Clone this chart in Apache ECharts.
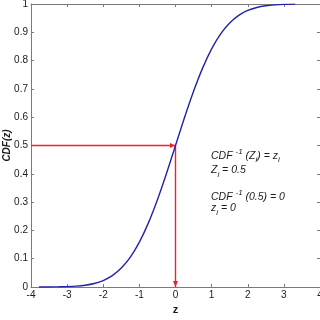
<!DOCTYPE html>
<html><head><meta charset="utf-8">
<script src="https://cdn.jsdelivr.net/npm/echarts@6/dist/echarts.min.js"></script>
<style>html,body{margin:0;padding:0;background:#fff}#c{width:320px;height:320px}</style>
</head><body><div id="c"></div>
<script>
var zValues = [-3.78,-3.5,-3.25,-3.0,-2.75,-2.5,-2.25,-2.0,-1.75,-1.5,-1.25,-1.0,-0.75,-0.5,-0.25,0,0.25,0.5,0.75,1.0,1.25,1.5,1.75,2.0,2.25,2.5,2.75,3.0,3.31];
var cdfValues = [0.0001,0.0002,0.0006,0.0013,0.0030,0.0062,0.0122,0.0228,0.0401,0.0668,0.1056,0.1587,0.2266,0.3085,0.4013,0.5,0.5987,0.6915,0.7734,0.8413,0.8944,0.9332,0.9599,0.9772,0.9878,0.9938,0.9970,0.9987,0.9995];
var arrowStartX = -4;
var arrowPoint = [0, 0.5];
var xTicks = [-4,-3,-2,-1,0,1,2,3,4];
var yTicks = [0,0.1,0.2,0.3,0.4,0.5,0.6,0.7,0.8,0.9,1];

var FONT = 'Liberation Sans, Arial, sans-serif';
var chart = echarts.init(document.getElementById('c'), null, {renderer:'canvas'});
var axisCol = '#7a7a7a';
var lblCol = '#1a1a1a';
var red = '#f0202a';
var curve = zValues.map(function(z,i){return [z, cdfValues[i]];});
var option = {
  animation:false,
  backgroundColor:'#fff',
  grid:{left:31,right:0,top:4,bottom:33,containLabel:false,outerBoundsMode:'none'},
  xAxis:[{
    type:'value', min:xTicks[0], max:xTicks[xTicks.length-1], interval:1,
    name:'z', nameLocation:'middle', nameGap:17, nameMoveOverlap:false,
    nameTextStyle:{fontFamily:FONT,fontSize:11,fontWeight:'bold',color:lblCol},
    axisLine:{onZero:false,lineStyle:{color:axisCol,width:1}},
    axisTick:{inside:true,length:3,lineStyle:{color:axisCol}},
    axisLabel:{fontFamily:FONT,fontSize:10,color:lblCol,margin:3,showMaxLabel:true,showMinLabel:true},
    splitLine:{show:false}
  },{
    type:'value', position:'top', min:-4, max:4, interval:1,
    axisLine:{onZero:false,lineStyle:{color:axisCol,width:1}},
    axisTick:{inside:true,length:3,lineStyle:{color:axisCol}},
    axisLabel:{show:false}, splitLine:{show:false}
  }],
  yAxis:[{
    type:'value', min:0, max:1, interval:0.1,
    name:'CDF(z)', nameLocation:'middle', nameGap:19, nameMoveOverlap:false,
    nameTextStyle:{fontFamily:FONT,fontSize:10,fontWeight:'bold',fontStyle:'italic',color:lblCol},
    axisLine:{onZero:false,lineStyle:{color:axisCol,width:1}},
    axisTick:{inside:true,length:3,lineStyle:{color:axisCol}},
    axisLabel:{fontFamily:FONT,fontSize:10,color:lblCol,margin:3},
    splitLine:{show:false}
  },{
    type:'value', position:'right', min:0, max:1, interval:0.1,
    axisLine:{onZero:false,lineStyle:{color:axisCol,width:1}},
    axisTick:{inside:true,length:3,lineStyle:{color:axisCol}},
    axisLabel:{show:false}, splitLine:{show:false}
  }],
  series:[{
    type:'line', data:curve, smooth:0.3, showSymbol:false,
    lineStyle:{color:'#2323a8',width:1.4}, z:3
  },{
    type:'line', z:2, showSymbol:false, symbol:'none',
    lineStyle:{color:red,width:1.6},
    data:[[arrowStartX, arrowPoint[1]],[arrowPoint[0], arrowPoint[1]]],
    markPoint:{
      symbol:'triangle', symbolSize:[5,5], symbolRotate:-90, symbolOffset:[-3,0],
      itemStyle:{color:red}, label:{show:false},
      data:[{coord:[arrowPoint[0], arrowPoint[1]]}]
    }
  },{
    type:'line', z:2, showSymbol:false, symbol:'none',
    lineStyle:{color:red,width:1.4},
    data:[[arrowPoint[0], arrowPoint[1]],[arrowPoint[0], 0]],
    markPoint:{
      symbol:'triangle', symbolSize:[5,6], symbolRotate:180, symbolOffset:[0,-3],
      itemStyle:{color:red}, label:{show:false},
      data:[{coord:[arrowPoint[0], 0]}]
    }
  }],
  graphic:[
    {type:'text', left:211, top:148, style:{
      text:'{n|CDF }{sup|-1}{n| (Z}{sub|i}{n|) = z}{sub|i}',
      rich:{n:{fontFamily:FONT,fontSize:10.5,fontStyle:'italic',fill:lblCol,lineHeight:16},
            sup:{fontFamily:FONT,fontSize:8,fontStyle:'italic',fill:lblCol,verticalAlign:'top',lineHeight:16},
            sub:{fontFamily:FONT,fontSize:8,fontStyle:'italic',fill:lblCol,verticalAlign:'bottom',lineHeight:16}}}},
    {type:'text', left:211, top:165, style:{
      text:'{n|Z}{sub|i}{n| = 0.5}',
      rich:{n:{fontFamily:FONT,fontSize:10.5,fontStyle:'italic',fill:lblCol,lineHeight:16},
            sub:{fontFamily:FONT,fontSize:8,fontStyle:'italic',fill:lblCol,verticalAlign:'bottom',lineHeight:16}}}},
    {type:'text', left:211, top:189, style:{
      text:'{n|CDF }{sup|-1}{n| (0.5) = 0}',
      rich:{n:{fontFamily:FONT,fontSize:10.5,fontStyle:'italic',fill:lblCol,lineHeight:16},
            sup:{fontFamily:FONT,fontSize:8,fontStyle:'italic',fill:lblCol,verticalAlign:'top',lineHeight:16}}}},
    {type:'text', left:211, top:203, style:{
      text:'{n|z}{sub|i}{n| = 0}',
      rich:{n:{fontFamily:FONT,fontSize:10.5,fontStyle:'italic',fill:lblCol,lineHeight:16},
            sub:{fontFamily:FONT,fontSize:8,fontStyle:'italic',fill:lblCol,verticalAlign:'bottom',lineHeight:16}}}}
  ]
};
chart.setOption(option);
</script></body></html>
